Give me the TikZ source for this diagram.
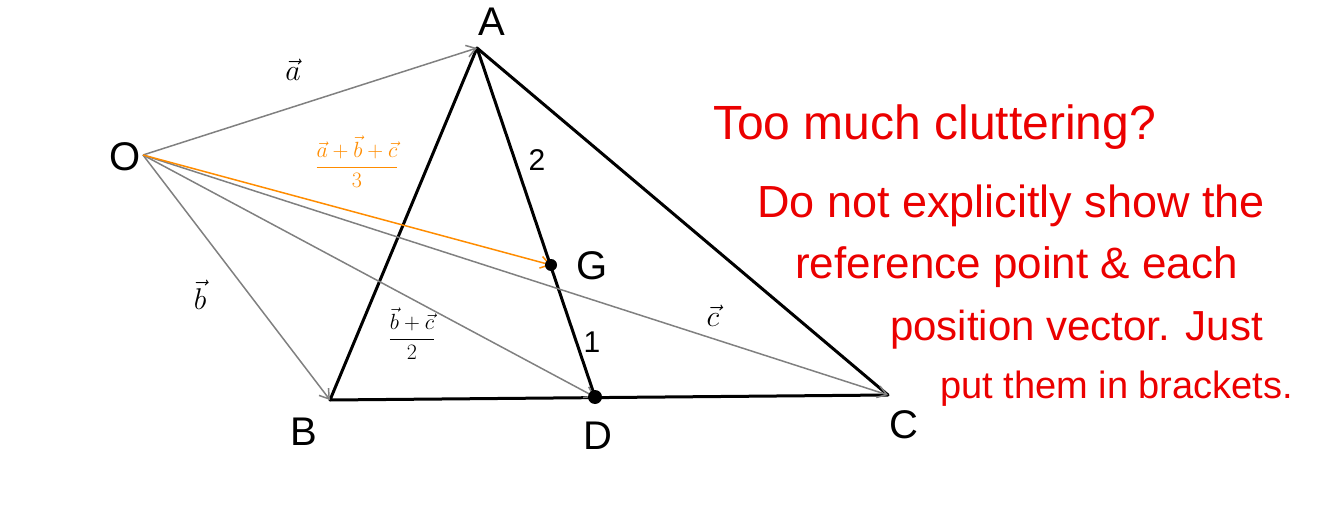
\documentclass[tikz,border=0pt]{standalone}
\usepackage{fix-cm}
\usepackage{fontspec}
\setmainfont{Liberation Sans}
\usetikzlibrary{arrows.meta}

\definecolor{penorange}{RGB}{255,140,0}
\definecolor{penred}{RGB}{235,0,0}

\begin{document}
\begin{tikzpicture}[x = 1pt, y = -1pt, > = {Straight Barb[length = 9pt, width = 12pt]}]

	% Styles
	
	\tikzset{
		vlabel/.style = {font = \fontsize{40}{44}\selectfont, inner sep = 0},
		vecname/.style = {font = \fontsize{30}{34}\selectfont, inner sep = 0},
		ratio/.style = {font = \fontsize{22}{26}\selectfont, inner sep = 0},
		posvec/.style = {->, draw = gray, line width = 1.5pt},
		side/.style = {draw = black, line width = 3pt, line join = round},
		note/.style = {text = penred, anchor = base west, inner sep = 0, font = \fontsize{#1}{#1}\selectfont}
	}
	
	\useasboundingbox (0, 0) rectangle (1330, 505);
	
	% Points
	
	\coordinate (O) at (143, 155);
	\coordinate (A) at (477, 48);
	\coordinate (B) at (330, 400);
	\coordinate (C) at (888, 395);
	\coordinate (D) at (595, 397);
	\coordinate (G) at (551, 265);
	
	% Triangle and median
	
	\draw [side] (A) -- (B) -- (C) -- cycle;
	\draw [side] (A) -- (D);
	
	% Position vectors
	
	\foreach \p in {A, B, C, D}
	{
		\draw [posvec] (O) -- (\p);
	}
	\draw [posvec, draw = penorange] (O) -- (G);
	
	\fill (G) circle (6);
	\fill (D) circle (7);
	
	% Point labels
	
	\node [vlabel] (labO) at (125, 157) {O};
	\node [vlabel] (labA) at (492, 22) {A};
	\node [vlabel] (labB) at (304, 432) {B};
	\node [vlabel] (labC) at (904, 425) {C};
	\node [vlabel] (labD) at (598, 436) {D};
	\node [vlabel] (labG) at (592, 266) {G};
	
	% Vector labels
	
	\node [vecname] (veca) at (293, 70) {$\vec{a}$};
	\node [vecname] (vecb) at (200, 295) {$\vec{b}$};
	\node [vecname] (vecc) at (713, 316) {$\vec{c}$};
	\node [ratio] (vecd) at (412, 334) {$\displaystyle\frac{\vec{b}+\vec{c}}{2}$};
	\node [ratio, text = penorange] (vecg) at (357, 162) {$\displaystyle\frac{\vec{a}+\vec{b}+\vec{c}}{3}$};
	
	% Ratio on the median
	
	\node [vecname] (two) at (537, 160) {2};
	\node [vecname] (one) at (592, 342) {1};
	
	% Comment
	
	\node [note = 48] (line1) at (713, 140) {Too much cluttering?};
	\node [note = 45] (line2) at (757, 218) {Do not explicitly show the};
	\node [note = 44] (line3) at (795, 278) {reference point \& each};
	\node [note = 42] (line4) at (890, 340) {position vector. Just};
	\node [note = 38] (line5) at (940, 398) {put them in brackets.};

\end{tikzpicture}
\end{document}
